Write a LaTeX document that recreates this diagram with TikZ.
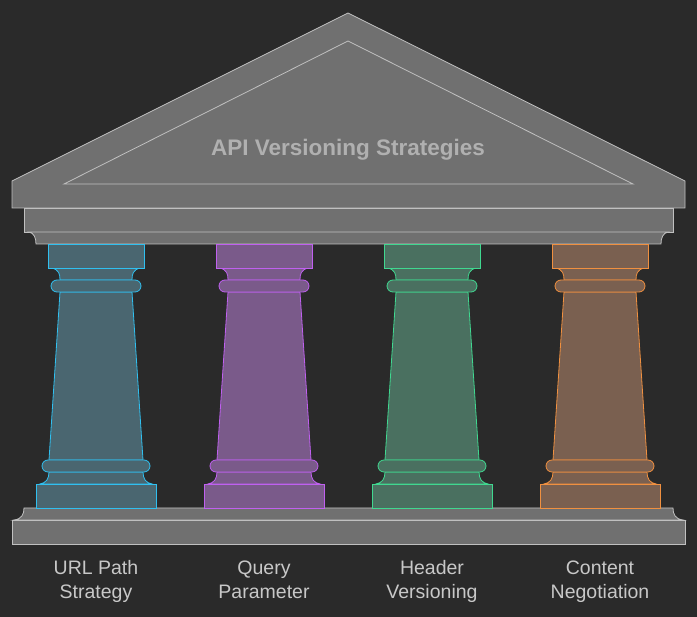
\documentclass[tikz,border=0pt]{standalone}
\usepackage{fontspec}
\setmainfont{Liberation Sans}
\usepackage{xcolor}
\usetikzlibrary{positioning}
\definecolor{bg}{HTML}{2A2A2A}
\definecolor{stone}{HTML}{707070}
\definecolor{stoneline}{HTML}{C0C0C0}
\definecolor{labelgray}{HTML}{C8C8C8}
\definecolor{titlegray}{HTML}{B0B0B0}
\definecolor{urlline}{HTML}{30C0F0}\definecolor{urlfill}{HTML}{4A6670}
\definecolor{queryline}{HTML}{C060F0}\definecolor{queryfill}{HTML}{7A5A8A}
\definecolor{headerline}{HTML}{40D890}\definecolor{headerfill}{HTML}{4A7060}
\definecolor{contentline}{HTML}{F09040}\definecolor{contentfill}{HTML}{7A6050}
\tikzset{
  stone/.style={fill=stone, draw=stoneline, line width=0.8pt},
  pillarlabel/.style={text=labelgray, font=\fontsize{19.5}{22}\selectfont, anchor=base},
}

\begin{document}
\begin{tikzpicture}[x=1pt,y=-1pt]
% Background
\fill[bg] (0,0) rectangle (697,617);
\useasboundingbox (0,0) rectangle (697,617);

% Roof
\draw[stone] (12,208) -- (12,181) -- (348,13) -- (685,181) -- (685,208) -- cycle;
\draw[stoneline, line width=0.8pt] (64,184) -- (348,41) -- (633,184) -- cycle;
\draw[stone] (24,208) rectangle (673,232);
\draw[stone] (29,232) .. controls (34,233) and (36,238) .. (36,244) -- (661,244)
  .. controls (661,238) and (663,233) .. (668,232) -- cycle;
\node[font=\bfseries\fontsize{22.5}{26}\selectfont, text=titlegray, anchor=base] (title) at (348,156) {API Versioning Strategies};

% Base
\draw[stone] (24,508) .. controls (24,514) and (22,519) .. (14,520) -- (683,520)
  .. controls (675,519) and (673,514) .. (673,508) -- cycle;
\draw[stone] (12,520) rectangle (685,544);

% Pillars
\foreach \c/\col/\top/\bot [count=\i] in {96/url/URL Path/Strategy, 264/query/Query/Parameter,
    432/header/Header/Versioning, 600/content/Content/Negotiation} {
  \begin{scope}[shift={(\c,0)}, fill=\col fill, draw=\col line, line width=0.8pt]
    % necks
    \filldraw (-44,268) .. controls (-37,270) and (-36,274) .. (-36,280) -- (36,280)
      .. controls (36,274) and (37,270) .. (44,268) -- cycle;
    \filldraw (-47,472) .. controls (-47,479) and (-50,483) .. (-56,484) -- (56,484)
      .. controls (50,483) and (47,479) .. (47,472) -- cycle;
    % shaft
    \filldraw (-36,292) -- (-47,460) -- (47,460) -- (36,292) -- cycle;
    % rings
    \filldraw[rounded corners=6pt] (-45,280) rectangle (45,292);
    \filldraw[rounded corners=6pt] (-54,460) rectangle (54,472);
    % capital and base
    \filldraw (-48,244) rectangle (48,268);
    \filldraw (-60,484) rectangle (60,508);
  \end{scope}
  \node[pillarlabel] (top\i) at (\c,575) {\top};
  \node[pillarlabel] (bot\i) at (\c,599) {\bot};
}
\end{tikzpicture}
\end{document}
